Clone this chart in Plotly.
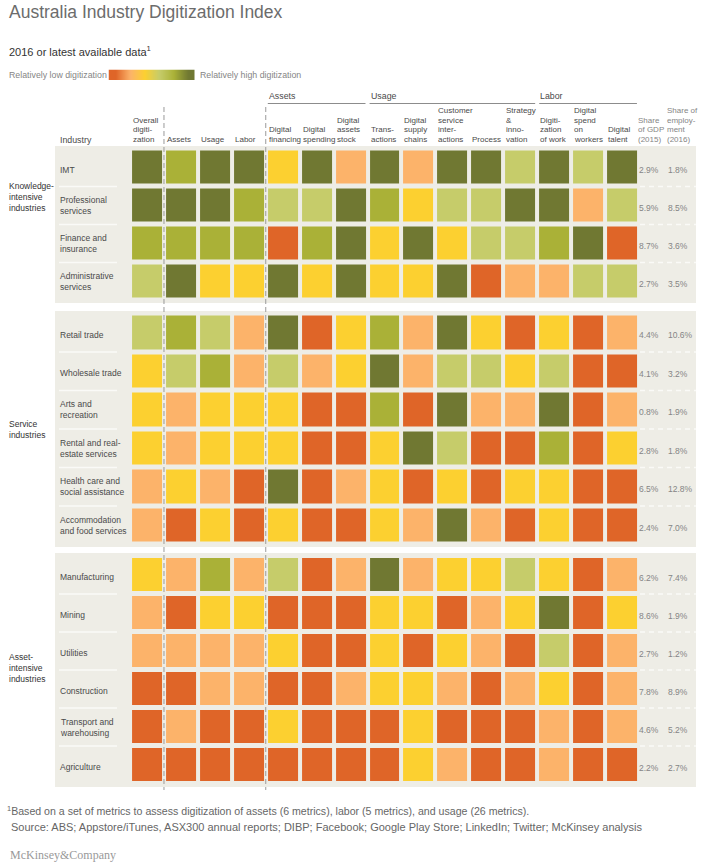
import plotly.graph_objects as go

W, H = 707, 864

# digitization level per cell: 0 = lowest ... 5 = highest
level_colors = ['#DF6528', '#FCB36A', '#FCD030', '#C6CC6A', '#AAB137', '#707832']

header_lines = [
    ['Overall', 'digiti-', 'zation'], ['Assets'], ['Usage'], ['Labor'],
    ['Digital', 'financing'], ['Digital', 'spending'], ['Digital', 'assets', 'stock'],
    ['Trans-', 'actions'], ['Digital', 'supply', 'chains'],
    ['Customer', 'service', 'inter-', 'actions'], ['Process'],
    ['Strategy', '&', 'inno-', 'vation'], ['Digiti-', 'zation', 'of work'],
    ['Digital', 'spend', 'on', 'workers'], ['Digital', 'talent'],
]
columns = [' '.join(c) for c in header_lines]

knowledge_rows = ['IMT', 'Professional<br>services', 'Finance and<br>insurance', 'Administrative<br>services']
knowledge_levels = [
    [5, 4, 5, 5, 2, 5, 1, 5, 1, 5, 5, 3, 5, 3, 5],
    [5, 5, 5, 4, 3, 3, 5, 4, 2, 3, 3, 5, 5, 1, 3],
    [4, 4, 4, 4, 0, 4, 5, 2, 5, 2, 3, 3, 4, 5, 0],
    [3, 5, 2, 2, 5, 2, 5, 2, 2, 5, 0, 1, 1, 3, 3],
]
knowledge_gdp = ['2.9%', '5.9%', '8.7%', '2.7%']
knowledge_emp = ['1.8%', '8.5%', '3.6%', '3.5%']

service_rows = ['Retail trade', 'Wholesale trade', 'Arts and<br>recreation', 'Rental and real-<br>estate services',
                'Health care and<br>social assistance', 'Accommodation<br>and food services']
service_levels = [
    [3, 4, 3, 1, 5, 0, 2, 4, 1, 5, 2, 0, 2, 0, 1],
    [2, 3, 4, 1, 3, 1, 2, 5, 1, 3, 3, 2, 3, 0, 0],
    [2, 1, 2, 2, 2, 0, 0, 4, 0, 5, 1, 1, 5, 0, 1],
    [2, 1, 2, 2, 2, 0, 0, 2, 5, 3, 0, 0, 4, 0, 2],
    [1, 2, 1, 0, 5, 0, 1, 2, 0, 2, 0, 2, 2, 0, 0],
    [1, 0, 2, 0, 2, 0, 0, 2, 1, 5, 1, 0, 2, 0, 0],
]
service_gdp = ['4.4%', '4.1%', '0.8%', '2.8%', '6.5%', '2.4%']
service_emp = ['10.6%', '3.2%', '1.9%', '1.8%', '12.8%', '7.0%']

asset_rows = ['Manufacturing', 'Mining', 'Utilities', 'Construction', 'Transport and<br>warehousing', 'Agriculture']
asset_levels = [
    [2, 1, 4, 1, 3, 0, 1, 5, 1, 2, 2, 3, 2, 0, 1],
    [1, 0, 2, 2, 0, 0, 0, 2, 2, 0, 1, 2, 5, 0, 2],
    [1, 1, 1, 1, 2, 0, 0, 2, 0, 2, 1, 0, 3, 0, 1],
    [0, 0, 1, 1, 0, 0, 1, 2, 2, 1, 0, 1, 2, 0, 1],
    [0, 1, 0, 0, 2, 0, 0, 0, 2, 0, 0, 0, 1, 0, 1],
    [0, 0, 0, 0, 0, 0, 0, 0, 2, 1, 0, 0, 1, 0, 0],
]
asset_gdp = ['6.2%', '8.6%', '2.7%', '7.8%', '4.6%', '2.2%']
asset_emp = ['7.4%', '1.9%', '1.2%', '8.9%', '5.2%', '2.7%']

groups = [
    ('y', knowledge_rows, knowledge_levels, knowledge_gdp, knowledge_emp, (148.5, 300.5), (146, 303)),
    ('y2', service_rows, service_levels, service_gdp, service_emp, (313.5, 544.5), (311, 547)),
    ('y3', asset_rows, asset_levels, asset_gdp, asset_emp, (556, 784), (553, 787)),
]

colorscale = [[i / 5, c] for i, c in enumerate(level_colors)]
TEXT_DARK = '#4a4a4a'
TEXT_GREY = '#858585'
FONT = 'Liberation Sans'
PITCH = 33.93
FIRST_CENTER = 147


def px_x(x):
    return x / W


def px_y(y):
    return 1 - y / H


def label(x, y, text, size=8.5, color=TEXT_DARK, family=FONT):
    """Text placed by its left edge and vertical middle, in page pixels"""
    return dict(x=px_x(x), y=px_y(y), xref='paper', yref='paper', text=text, showarrow=False,
                xanchor='left', yanchor='middle', align='left', borderpad=0,
                font=dict(size=size, color=color, family=family))


fig = go.Figure()
annotations = []
shapes = []

layout_axes = {}
for axis, rows, levels, gdp, emp, span, panel in groups:
    fig.add_trace(go.Heatmap(z=levels, x=columns, y=rows, xaxis='x', yaxis=axis, zmin=0, zmax=5,
                             colorscale=colorscale, showscale=False, xgap=4, ygap=5))
    name = 'yaxis' if axis == 'y' else 'yaxis' + axis[1:]
    layout_axes[name] = dict(domain=[px_y(span[1]), px_y(span[0])], range=[len(rows) - 0.5, -0.5],
                             visible=False, type='category', fixedrange=True)

    # panel background
    shapes.append(dict(type='rect', xref='paper', yref='paper', x0=px_x(55), x1=px_x(696),
                       y0=px_y(panel[1]), y1=px_y(panel[0]), fillcolor='#EEEDE6',
                       line_width=0, layer='below'))

    for i, row in enumerate(rows):
        # one-line names sit a little under the middle of the row
        annotations.append(dict(x=px_x(59), y=i, xref='paper', yref=axis, text=row, showarrow=False,
                                xanchor='left', yanchor='middle', align='left', borderpad=0,
                                yshift=0 if '<br>' in row else -2,
                                font=dict(size=8.5, color=TEXT_DARK, family=FONT)))
        for left, values in ((637.5, gdp), (666.5, emp)):
            annotations.append(dict(x=px_x(left), y=i, xref='paper', yref=axis, text=values[i], showarrow=False,
                                    xanchor='left', yanchor='middle', borderpad=0, yshift=-2.5,
                                    font=dict(size=8.5, color=TEXT_GREY, family=FONT)))
        # separators between rows
        if i < len(rows) - 1:
            shapes.append(dict(type='line', xref='paper', yref=axis, x0=px_x(59), x1=px_x(117),
                               y0=i + 0.5, y1=i + 0.5, line=dict(color='#FAFAF7', width=1.5), layer='below'))
            shapes.append(dict(type='line', xref='paper', yref=axis, x0=px_x(640), x1=px_x(696),
                               y0=i + 0.5, y1=i + 0.5,
                               line=dict(color='#FAFAF7', width=1.5, dash='5px,4px'), layer='below'))

# gradient legend
fig.add_trace(go.Heatmap(z=[[0, 1, 2, 3, 4, 5]], xaxis='x2', yaxis='y4', zmin=0, zmax=5, zsmooth='best',
                         colorscale=colorscale, showscale=False))
layout_axes['yaxis4'] = dict(domain=[px_y(80), px_y(69.5)], visible=False, anchor='x2', fixedrange=True)

# column headers, bottom aligned
for i, lines in enumerate(header_lines):
    left = FIRST_CENTER + PITCH * i - 15
    for j, line in enumerate(reversed(lines)):
        annotations.append(label(left, 139.5 - 9.6 * j, line, size=8))

for left, lines in ((637, ['Share', 'of GDP', '(2015)']), (666, ['Share of', 'employ-', 'ment', '(2016)'])):
    for j, line in enumerate(reversed(lines)):
        annotations.append(label(left, 139.5 - 9.6 * j, line, size=8, color=TEXT_GREY))

# group brackets over the sub-metrics
for text, first, last in (('Assets', 4, 6), ('Usage', 7, 11), ('Labor', 12, 14)):
    annotations.append(label(FIRST_CENTER + PITCH * first - 15, 96.5, text, size=8.8))
    shapes.append(dict(type='line', xref='x', yref='paper', x0=first - 0.44, x1=last + 0.44,
                       y0=px_y(103.5), y1=px_y(103.5), line=dict(color='#8c8c8c', width=1)))

# dashed separators
for pos in (0.5, 3.5):
    shapes.append(dict(type='line', xref='x', yref='paper', x0=pos, x1=pos, y0=px_y(107), y1=px_y(790),
                       line=dict(color='#9a9a9a', width=1, dash='5px,3px')))

annotations += [
    label(8, 12, 'Australia Industry Digitization Index', size=17.5, color='#6c6c6c'),
    label(8, 50.5, '2016 or latest available data<sup>1</sup>', size=11, color='#333333'),
    label(8, 75, 'Relatively low digitization', size=8.8, color=TEXT_GREY),
    label(199, 75, 'Relatively high digitization', size=8.8, color=TEXT_GREY),
    label(8, 186, 'Knowledge-', color='#333333'),
    label(8, 197, 'intensive', color='#333333'),
    label(8, 208, 'industries', color='#333333'),
    label(8, 424, 'Service', color='#333333'),
    label(8, 435, 'industries', color='#333333'),
    label(8, 657, 'Asset-', color='#333333'),
    label(8, 668, 'intensive', color='#333333'),
    label(8, 679, 'industries', color='#333333'),
    label(59, 139.5, 'Industry', size=8.8),
    label(6, 810, '<sup>1</sup>Based on a set of metrics to assess digitization of assets (6 metrics), '
                  'labor (5 metrics), and usage (26 metrics).', size=10.6, color='#666666'),
    label(10, 827, 'Source: ABS; Appstore/iTunes, ASX300 annual reports; DIBP; Facebook; Google Play Store; '
                   'LinkedIn; Twitter; McKinsey analysis', size=11, color='#666666'),
    label(9, 855, 'McKinsey&Company', size=12, color='#999999', family='Liberation Serif'),
]

fig.update_layout(
    width=W, height=H, margin=dict(l=0, r=0, t=0, b=0), paper_bgcolor='white',
    plot_bgcolor='rgba(0,0,0,0)', showlegend=False, annotations=annotations, shapes=shapes,
    xaxis=dict(domain=[0, 1], range=[(0 - FIRST_CENTER) / PITCH, (W - FIRST_CENTER) / PITCH],
               visible=False, type='category', fixedrange=True),
    xaxis2=dict(domain=[px_x(108.5), px_x(195)], visible=False, anchor='y4', fixedrange=True),
    **layout_axes,
)

# the page's default body margin would push the figure out of the window
fig.write_html("out.html", config=dict(displayModeBar=False),
               post_script="document.body.style.margin = '0';")
